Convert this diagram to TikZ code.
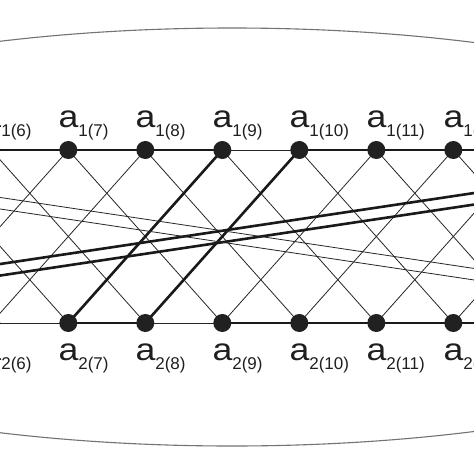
\documentclass[tikz,border=0pt]{standalone}
\usepackage{fontspec}
\setmainfont{Liberation Sans}
\usepackage{graphicx}
\newcommand\vlbl[1]{{\fontsize{31}{31}\selectfont\scalebox{1.15}[1]{a}}\raisebox{-8.5pt}{\fontsize{17}{17}\selectfont #1}}
\tikzset{
  thin edge/.style={line width=0.8pt, black!85},
  thick edge/.style={line width=2.6pt, black!90},
  vtx/.style={circle, fill=black!87, minimum size=18pt, inner sep=0pt},
  lab/.style={anchor=base west, inner sep=0pt, text=black!88},
  frame/.style={line width=1.1pt, black!55}
}
\begin{document}
\begin{tikzpicture}[x=1pt,y=-1pt]
\useasboundingbox (0,0) rectangle (474,474);
\clip (0,0) rectangle (474,474);
\fill[white] (0,0) rectangle (474,474);
\draw[frame] (232,237) ellipse [x radius=660pt, y radius=209pt];
% vertex positions (infinite ladder, only 6..12 visible)
\foreach \k [evaluate=\k as \xx using 68.3+77*(\k-7)] in {1,...,18} {
  \coordinate (t\k) at (\xx,150);
  \coordinate (b\k) at (\xx,323);
}
% crossing diagonals
\foreach \k in {3,...,16} {
  \pgfmathtruncatemacro\p{\k+2}
  \pgfmathtruncatemacro\m{\k-2}
  \draw[thin edge] (t\k) -- (b\p);
  \draw[thin edge] (t\k) -- (b\m);
}
% rows
\draw[thin edge] (t1) -- (t18);
\draw[thin edge] (b1) -- (b18);
\draw[thick edge] (t5) -- (t9);
\draw[thick edge] (t10) -- (t14);
\draw[thick edge] (b7) -- (b8);
\draw[thick edge] (b9) -- (b14);
% thick diagonals
\draw[thick edge] (b7) -- (t9);
\draw[thick edge] (b8) -- (t10);
% long lines
\draw[thick edge] (b1) -- (t16);
\draw[thick edge] (b2) -- (t17);
\draw[thin edge] (t2) -- (b17);
\draw[thin edge] (t1) -- (b16);
% vertices and labels
\foreach \k [evaluate=\k as \xx using 68.3+77*(\k-7)] in {6,...,12} {
  \node[vtx] (u\k) at (t\k) {};
  \node[vtx] (v\k) at (b\k) {};
  \node[lab] (lu\k) at (\xx-10,127.5) {\vlbl{1(\k)}};
  \node[lab] (lv\k) at (\xx-10,360.5) {\vlbl{2(\k)}};
}
\end{tikzpicture}
\end{document}
